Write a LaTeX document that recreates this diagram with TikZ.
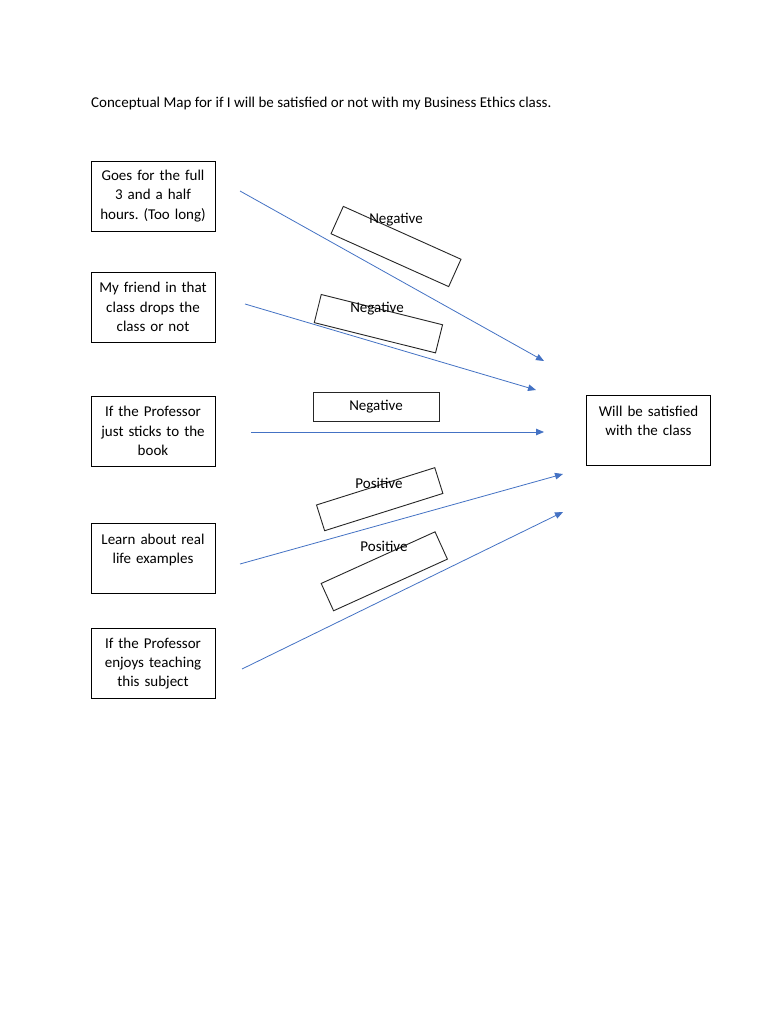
\documentclass[tikz,border=0pt]{standalone}
\usepackage{fontspec}
\setmainfont{Carlito}
\usetikzlibrary{arrows.meta}
\definecolor{arrowblue}{HTML}{4472C4}
\frenchspacing
\begin{document}
\begin{tikzpicture}[x=1pt,y=-1pt,
  every node/.style={font=\fontsize{15}{19.3}\selectfont},
  bx/.style={draw=black, line width=0.9pt, minimum width=124, minimum height=70, text width=124, align=center, inner sep=0pt},
  lblbox/.style={draw=black!85, line width=0.9pt, minimum width=125, minimum height=29, inner sep=0pt},
  lbltext/.style={inner sep=0pt},
  conn/.style={draw=arrowblue, line width=0.8pt, -{Triangle[length=8pt,width=6.5pt]}}
]
\useasboundingbox[fill=white] (0,0) rectangle (768,1024);

\node[anchor=base west, inner sep=0pt] (title) at (91,108) {Conceptual Map for if I will be satisfied or not with my Business Ethics class.};

\node[bx] (b1) at (153,196) {Goes for the full\\3 and a half\\hours. (Too long)};
\node[bx] (b2) at (153,307) {My friend in that\\class drops the\\class or not};
\node[bx] (b3) at (153,431) {If the Professor\\just sticks to the\\book};
\node[bx] (b4) at (153,558.5) {Learn about real\\life examples\\[-5pt]\strut};
\node[bx] (b5) at (153,663.5) {If the Professor\\enjoys teaching\\this subject};
\node[bx] (t) at (648.5,430.5) {Will be satisfied\\with the class\\[-6pt]\strut};

% rotated label boxes
\node[lblbox, rotate=-24.2, minimum width=129, minimum height=30] (r1) at (396,246.5) {};
\node[lblbox, rotate=-14, minimum width=125, minimum height=29] (r2) at (378.4,323.7) {};
\node[lblbox, minimum width=126, minimum height=29] (r3) at (376.3,406.8) {};
\node[lblbox, rotate=17.5, minimum width=124, minimum height=27] (r4) at (379.7,499.2) {};
\node[lblbox, rotate=24.4, minimum width=125, minimum height=30] (r5) at (384.3,571.3) {};

\node[lbltext] (l1) at (396,220) {Negative};
\node[lbltext] (l2) at (377,309) {Negative};
\node[lbltext] (l3) at (376,407) {Negative};
\node[lbltext] (l4) at (379,483) {Positive};
\node[lbltext] (l5) at (384,546) {Positive};

% connector ends
\coordinate (s1) at (240,191);  \coordinate (e1) at (544,361);
\coordinate (s2) at (245,304);  \coordinate (e2) at (536,390);
\coordinate (s3) at (251,432);  \coordinate (e3) at (544,432);
\coordinate (s4) at (240,564);  \coordinate (e4) at (563,474);
\coordinate (s5) at (242,669);  \coordinate (e5) at (563,512);

\draw[conn] (s1) -- (e1);
\draw[conn] (s2) -- (e2);
\draw[conn] (s3) -- (e3);
\draw[conn] (s4) -- (e4);
\draw[conn] (s5) -- (e5);
\end{tikzpicture}
\end{document}
